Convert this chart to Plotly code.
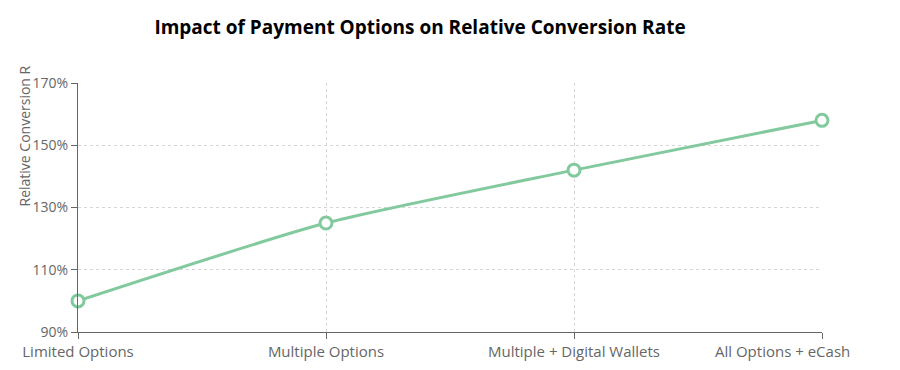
import plotly.graph_objects as go

categories = ["Limited Options", "Multiple Options", "Multiple + Digital Wallets", "All Options + eCash"]
conversion = [100, 125, 142, 158]
y_ticks = [90, 110, 130, 150, 170]
y_tick_labels = ["90%", "110%", "130%", "150%", "170%"]

color = "#82ca9d"
font_family = "Open Sans, Noto Sans, sans-serif"

L, R, T, B = 78, 822, 83, 332

fig = go.Figure()
fig.add_trace(go.Scatter(
    x=categories, y=conversion, mode="lines+markers",
    line=dict(color=color, width=3, shape="spline", smoothing=0.6),
    marker=dict(size=12, color="white", line=dict(color=color, width=3)),
    cliponaxis=False, showlegend=False,
))

x_tick_text = categories[:-1] + [""]

fig.update_layout(
    width=900, height=370,
    margin=dict(l=L, r=900 - R, t=T, b=370 - B, autoexpand=False),
    paper_bgcolor="white", plot_bgcolor="white",
    font=dict(family=font_family, color="#666", size=14),
    title=dict(text="<b>Impact of Payment Options on Relative Conversion Rate</b>",
               x=420/900, xanchor="center", y=1-27/370, yanchor="middle",
               font=dict(size=19, color="black", family=font_family)),
    xaxis=dict(type="category", range=[0, 3], showline=True, linecolor="#666", linewidth=1,
               ticks="outside", ticklen=6, tickcolor="#666", automargin=False,
               tickvals=categories, ticktext=x_tick_text,
               showgrid=True, gridcolor="#d6d6d6", griddash="3px,3px", gridwidth=1,
               tickfont=dict(size=15, color="#666"), zeroline=False),
    yaxis=dict(range=[90, 170], tickvals=y_ticks, ticktext=y_tick_labels,
               showline=True, linecolor="#666", linewidth=1, automargin=False,
               ticks="outside", ticklen=6, tickcolor="#666",
               showgrid=True, gridcolor="#d6d6d6", griddash="3px,3px", gridwidth=1,
               tickfont=dict(size=14, color="#666"), zeroline=False),
    annotations=[
        dict(text="Relative Conversion R", textangle=-90,
             x=(24 - L) / (R - L), y=(B - 208) / (B - T),
             xref="paper", yref="paper", xanchor="center", yanchor="bottom",
             showarrow=False, font=dict(size=14, color="#666", family=font_family)),
        dict(text=categories[-1],
             x=(782 - L) / (R - L), y=(B - 339) / (B - T),
             xref="paper", yref="paper", xanchor="center", yanchor="top",
             showarrow=False, font=dict(size=15, color="#666", family=font_family)),
    ],
)

fig.write_html("out.html")
